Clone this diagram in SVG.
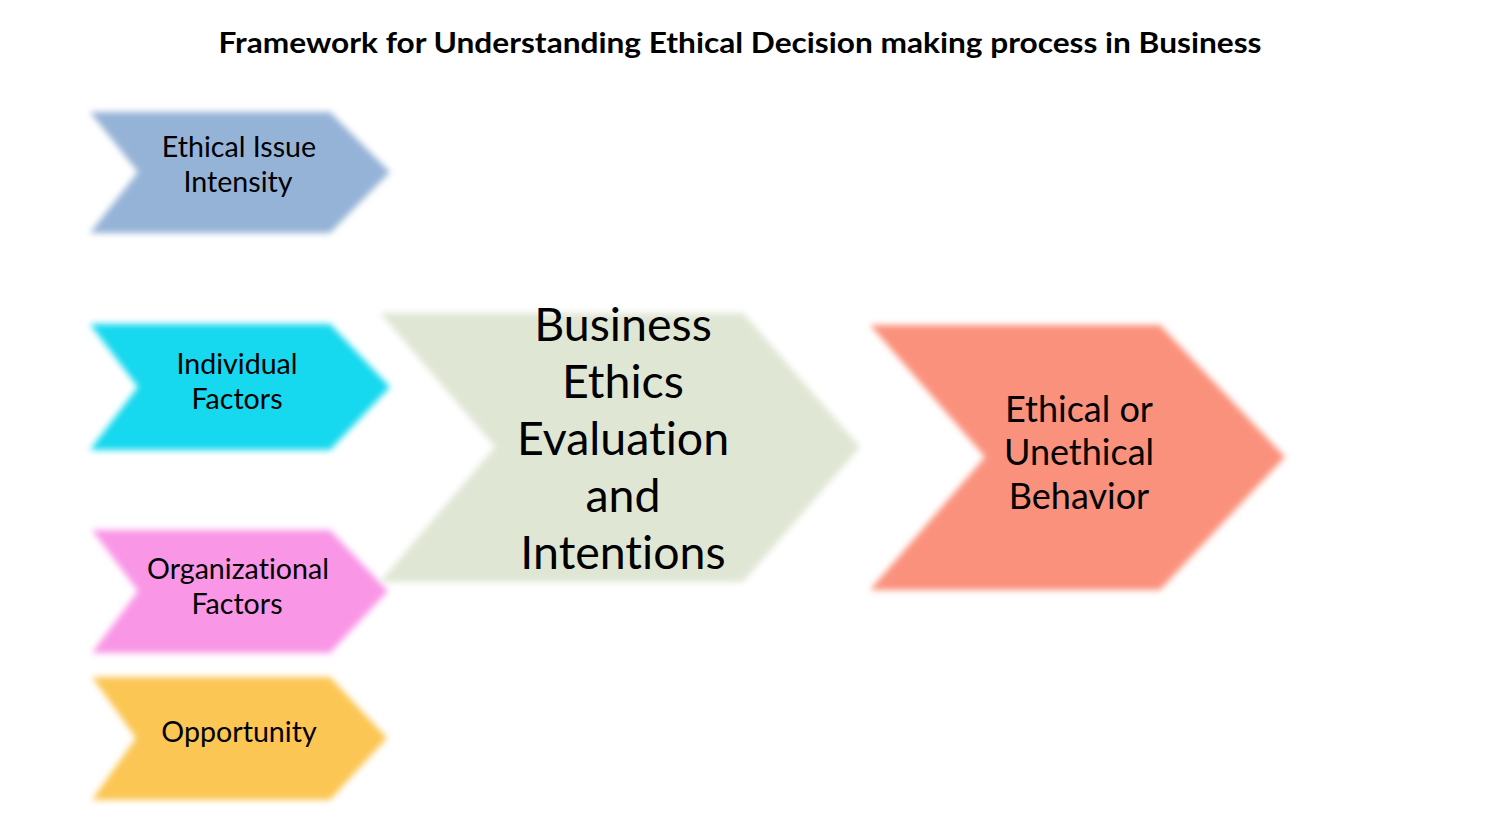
<svg xmlns="http://www.w3.org/2000/svg" width="1500" height="826" viewBox="0 0 1500 826">
<defs>
<filter id="soft" x="-10%" y="-10%" width="120%" height="120%"><feGaussianBlur stdDeviation="3"/></filter>
<style>
.t{font-family:Lato,"Open Sans","Liberation Sans",sans-serif;fill:#000;text-anchor:middle;font-variant-ligatures:none}
.s{font-size:28.6px}
.m{font-size:46.5px}
.r{font-size:36px}
.title{font-size:29px;font-weight:bold}
</style>
</defs>
<rect width="1500" height="826" fill="#fff"/>
<text class="t title" x="740" y="53" textLength="1043" lengthAdjust="spacingAndGlyphs">Framework for Understanding Ethical Decision making process in Business</text>
<g id="connectors"/>
<g id="n1">
<polygon points="90,112 330,112 390,172 330,233 90,233 138,172" fill="#95b3d7" filter="url(#soft)"/>
<text class="t s" x="239" y="157">Ethical Issue</text>
<text class="t s" x="238" y="192">Intensity</text>
</g>
<g id="n2">
<polygon points="90,324 330,324 390,387 330,450 90,450 138,387" fill="#12d8ee" filter="url(#soft)"/>
<text class="t s" x="237" y="374">Individual</text>
<text class="t s" x="237" y="409">Factors</text>
</g>
<g id="n3">
<polygon points="92,530 330,530 388,591 330,653 92,653 138,591" fill="#f996e6" filter="url(#soft)"/>
<text class="t s" x="238" y="579">Organizational</text>
<text class="t s" x="237" y="614">Factors</text>
</g>
<g id="n4">
<polygon points="92,677 330,677 387,738 330,800 92,800 136,738" fill="#fbc652" filter="url(#soft)"/>
<text class="t s" x="239" y="742">Opportunity</text>
</g>
<g id="n5">
<polygon points="380,313 743,313 860,447 743,582 380,582 495,447" fill="#e0e6d4" filter="url(#soft)"/>
<text class="t m" x="623" y="341">Business</text>
<text class="t m" x="623" y="398">Ethics</text>
<text class="t m" x="623" y="455">Evaluation</text>
<text class="t m" x="623" y="512">and</text>
<text class="t m" x="623" y="569">Intentions</text>
</g>
<g id="n6">
<polygon points="870,325 1160,325 1285,457 1160,590 870,590 985,457" fill="#fa917c" filter="url(#soft)"/>
<text class="t r" x="1079" y="422">Ethical or</text>
<text class="t r" x="1079" y="465">Unethical</text>
<text class="t r" x="1079" y="509">Behavior</text>
</g>
</svg>
